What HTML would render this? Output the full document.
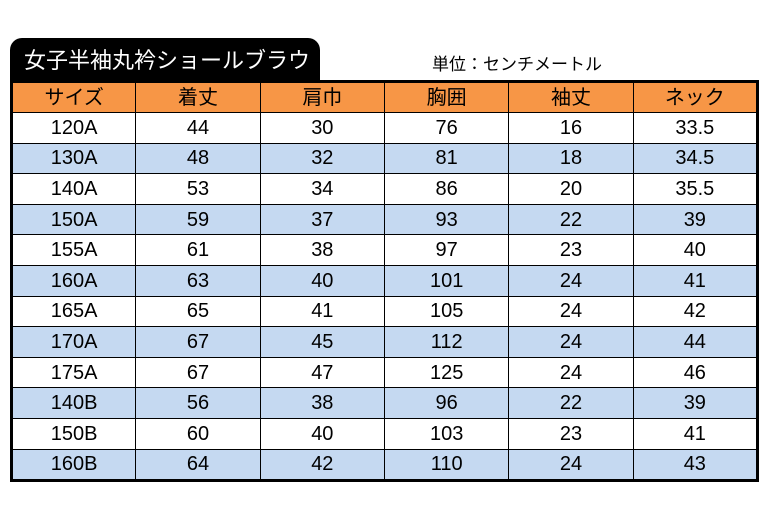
<!DOCTYPE html>
<html><head><meta charset="utf-8"><style>
body{margin:0;width:768px;height:516px;background:#fff;position:relative;overflow:hidden;font-family:"Liberation Sans","Noto Sans CJK JP",sans-serif;}
#tab{position:absolute;left:10px;top:38px;width:310px;height:44px;background:#000;border-radius:12px 12px 0 0;color:#fff;font-size:22px;line-height:46px;padding-left:14px;box-sizing:border-box;}
#unit{position:absolute;left:432px;top:50px;font-size:17px;color:#000;}
table{position:absolute;left:10px;top:80px;width:749px;height:401px;border-collapse:collapse;border:3px solid #000;table-layout:fixed;}
tr{height:30.6px;}
td,th{border:1px solid #000;text-align:center;font-size:20px;line-height:20px;font-weight:normal;padding:0;color:#000;height:29px;}
th{background:#f79646;}
tr.b td{background:#c5d9f1;}
</style></head><body>
<div id="tab">女子半袖丸衿ショールブラウ</div>
<div id="unit">単位：センチメートル</div>
<table>
<tr><th>サイズ</th><th>着丈</th><th>肩巾</th><th>胸囲</th><th>袖丈</th><th>ネック</th></tr>
<tr><td>120A</td><td>44</td><td>30</td><td>76</td><td>16</td><td>33.5</td></tr>
<tr class="b"><td>130A</td><td>48</td><td>32</td><td>81</td><td>18</td><td>34.5</td></tr>
<tr><td>140A</td><td>53</td><td>34</td><td>86</td><td>20</td><td>35.5</td></tr>
<tr class="b"><td>150A</td><td>59</td><td>37</td><td>93</td><td>22</td><td>39</td></tr>
<tr><td>155A</td><td>61</td><td>38</td><td>97</td><td>23</td><td>40</td></tr>
<tr class="b"><td>160A</td><td>63</td><td>40</td><td>101</td><td>24</td><td>41</td></tr>
<tr><td>165A</td><td>65</td><td>41</td><td>105</td><td>24</td><td>42</td></tr>
<tr class="b"><td>170A</td><td>67</td><td>45</td><td>112</td><td>24</td><td>44</td></tr>
<tr><td>175A</td><td>67</td><td>47</td><td>125</td><td>24</td><td>46</td></tr>
<tr class="b"><td>140B</td><td>56</td><td>38</td><td>96</td><td>22</td><td>39</td></tr>
<tr><td>150B</td><td>60</td><td>40</td><td>103</td><td>23</td><td>41</td></tr>
<tr class="b"><td>160B</td><td>64</td><td>42</td><td>110</td><td>24</td><td>43</td></tr>
</table>
</body></html>
